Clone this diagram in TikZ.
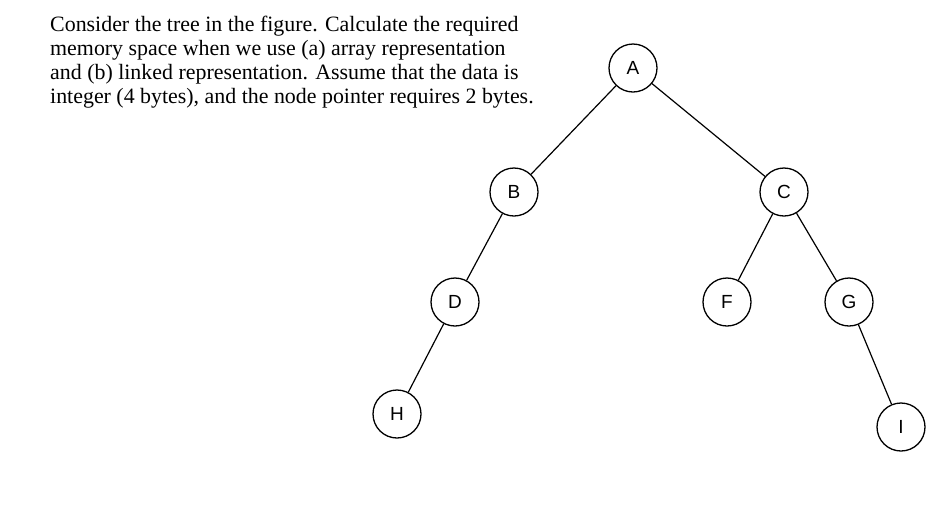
\documentclass[tikz,border=0pt]{standalone}
\usepackage{fontspec}
\setmainfont{Liberation Serif}
\newfontfamily\lab{Liberation Sans}
\begin{document}
\begin{tikzpicture}[x=1pt,y=-1pt,
  tn/.style={circle,draw,line width=1.3pt,minimum size=48pt,inner sep=0pt,font=\lab\fontsize{19}{19}\selectfont},
  ed/.style={line width=1.2pt}]
\useasboundingbox (0,0) rectangle (947,531);
\node[anchor=north west,align=left,inner sep=0pt,font=\fontsize{21.9}{24}\selectfont] (txt) at (50,16)
{Consider the tree in the figure. Calculate the required\\memory space when we use (a) array representation\\and (b) linked representation. Assume that the data is\\integer (4 bytes), and the node pointer requires 2 bytes.};
\node[tn] (A) at (633,68) {A};
\node[tn] (B) at (514,192) {B};
\node[tn] (C) at (784,192) {C};
\node[tn] (D) at (455,302) {D};
\node[tn] (F) at (727,302) {F};
\node[tn] (G) at (849,302) {G};
\node[tn] (H) at (397,414) {H};
\node[tn] (I) at (901,427) {I};
\draw[ed] (A)--(B);
\draw[ed] (A)--(C);
\draw[ed] (B)--(D);
\draw[ed] (D)--(H);
\draw[ed] (C)--(F);
\draw[ed] (C)--(G);
\draw[ed] (G)--(I);
\end{tikzpicture}
\end{document}
